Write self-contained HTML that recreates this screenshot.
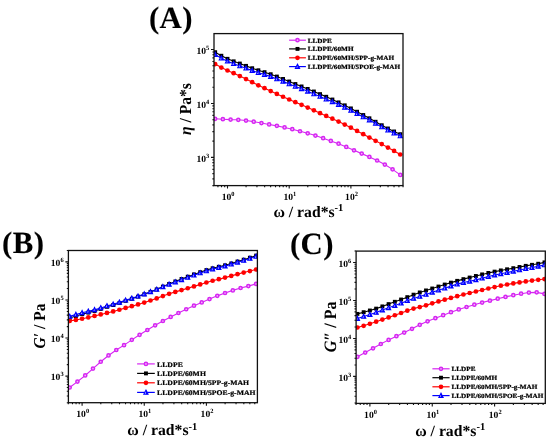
<!DOCTYPE html><html><head><meta charset="utf-8"><style>html,body{margin:0;padding:0;background:#fff;}svg{display:block;text-rendering:geometricPrecision;}</style></head><body>
<svg width="550" height="440" viewBox="0 0 550 440" font-family='"Liberation Serif", "DejaVu Serif", serif' font-weight="bold">
<rect width="550" height="440" fill="#fff"/>
<clipPath id="clipA"><rect x="214.0" y="33.6" width="189.0" height="152.0"/></clipPath>
<g clip-path="url(#clipA)">
<polyline points="215.16,118.80 222.87,119.18 230.59,119.60 238.30,119.78 246.01,120.56 253.72,121.64 261.44,123.04 269.15,124.42 276.86,125.84 284.57,127.42 292.29,129.20 300.00,131.24 307.71,133.28 315.42,135.58 323.13,138.20 330.85,140.90 338.56,143.72 346.27,146.94 353.99,150.34 361.70,153.62 369.41,156.94 377.12,160.52 384.84,164.60 392.55,169.34 400.26,174.90" fill="none" stroke="#d626f2" stroke-width="1.1"/>
<circle cx="215.16" cy="118.80" r="1.60" fill="#f2b4fb" stroke="#d626f2" stroke-width="1.5"/>
<circle cx="222.87" cy="119.18" r="1.60" fill="#f2b4fb" stroke="#d626f2" stroke-width="1.5"/>
<circle cx="230.59" cy="119.60" r="1.60" fill="#f2b4fb" stroke="#d626f2" stroke-width="1.5"/>
<circle cx="238.30" cy="119.78" r="1.60" fill="#f2b4fb" stroke="#d626f2" stroke-width="1.5"/>
<circle cx="246.01" cy="120.56" r="1.60" fill="#f2b4fb" stroke="#d626f2" stroke-width="1.5"/>
<circle cx="253.72" cy="121.64" r="1.60" fill="#f2b4fb" stroke="#d626f2" stroke-width="1.5"/>
<circle cx="261.44" cy="123.04" r="1.60" fill="#f2b4fb" stroke="#d626f2" stroke-width="1.5"/>
<circle cx="269.15" cy="124.42" r="1.60" fill="#f2b4fb" stroke="#d626f2" stroke-width="1.5"/>
<circle cx="276.86" cy="125.84" r="1.60" fill="#f2b4fb" stroke="#d626f2" stroke-width="1.5"/>
<circle cx="284.57" cy="127.42" r="1.60" fill="#f2b4fb" stroke="#d626f2" stroke-width="1.5"/>
<circle cx="292.29" cy="129.20" r="1.60" fill="#f2b4fb" stroke="#d626f2" stroke-width="1.5"/>
<circle cx="300.00" cy="131.24" r="1.60" fill="#f2b4fb" stroke="#d626f2" stroke-width="1.5"/>
<circle cx="307.71" cy="133.28" r="1.60" fill="#f2b4fb" stroke="#d626f2" stroke-width="1.5"/>
<circle cx="315.42" cy="135.58" r="1.60" fill="#f2b4fb" stroke="#d626f2" stroke-width="1.5"/>
<circle cx="323.13" cy="138.20" r="1.60" fill="#f2b4fb" stroke="#d626f2" stroke-width="1.5"/>
<circle cx="330.85" cy="140.90" r="1.60" fill="#f2b4fb" stroke="#d626f2" stroke-width="1.5"/>
<circle cx="338.56" cy="143.72" r="1.60" fill="#f2b4fb" stroke="#d626f2" stroke-width="1.5"/>
<circle cx="346.27" cy="146.94" r="1.60" fill="#f2b4fb" stroke="#d626f2" stroke-width="1.5"/>
<circle cx="353.99" cy="150.34" r="1.60" fill="#f2b4fb" stroke="#d626f2" stroke-width="1.5"/>
<circle cx="361.70" cy="153.62" r="1.60" fill="#f2b4fb" stroke="#d626f2" stroke-width="1.5"/>
<circle cx="369.41" cy="156.94" r="1.60" fill="#f2b4fb" stroke="#d626f2" stroke-width="1.5"/>
<circle cx="377.12" cy="160.52" r="1.60" fill="#f2b4fb" stroke="#d626f2" stroke-width="1.5"/>
<circle cx="384.84" cy="164.60" r="1.60" fill="#f2b4fb" stroke="#d626f2" stroke-width="1.5"/>
<circle cx="392.55" cy="169.34" r="1.60" fill="#f2b4fb" stroke="#d626f2" stroke-width="1.5"/>
<circle cx="400.26" cy="174.90" r="1.60" fill="#f2b4fb" stroke="#d626f2" stroke-width="1.5"/>
<polyline points="215.16,52.20 221.33,55.75 227.50,58.83 233.67,61.33 239.84,63.55 246.01,65.88 252.18,68.23 258.35,70.28 264.52,72.15 270.69,74.22 276.86,76.55 283.03,78.97 289.20,81.50 295.37,84.03 301.54,86.45 307.71,88.93 313.88,91.51 320.05,94.13 326.22,96.77 332.39,99.53 338.56,102.40 344.73,105.34 350.90,108.42 357.07,111.74 363.24,115.03 369.41,118.29 375.58,121.78 381.75,125.25 387.92,128.50 394.09,131.47 400.26,134.20" fill="none" stroke="#000000" stroke-width="1.1"/>
<rect x="213.21" y="50.25" width="3.90" height="3.90" fill="#000000"/>
<rect x="219.38" y="53.80" width="3.90" height="3.90" fill="#000000"/>
<rect x="225.55" y="56.88" width="3.90" height="3.90" fill="#000000"/>
<rect x="231.72" y="59.38" width="3.90" height="3.90" fill="#000000"/>
<rect x="237.89" y="61.60" width="3.90" height="3.90" fill="#000000"/>
<rect x="244.06" y="63.92" width="3.90" height="3.90" fill="#000000"/>
<rect x="250.23" y="66.28" width="3.90" height="3.90" fill="#000000"/>
<rect x="256.40" y="68.33" width="3.90" height="3.90" fill="#000000"/>
<rect x="262.57" y="70.20" width="3.90" height="3.90" fill="#000000"/>
<rect x="268.74" y="72.27" width="3.90" height="3.90" fill="#000000"/>
<rect x="274.91" y="74.60" width="3.90" height="3.90" fill="#000000"/>
<rect x="281.08" y="77.02" width="3.90" height="3.90" fill="#000000"/>
<rect x="287.25" y="79.55" width="3.90" height="3.90" fill="#000000"/>
<rect x="293.42" y="82.08" width="3.90" height="3.90" fill="#000000"/>
<rect x="299.59" y="84.50" width="3.90" height="3.90" fill="#000000"/>
<rect x="305.76" y="86.98" width="3.90" height="3.90" fill="#000000"/>
<rect x="311.93" y="89.56" width="3.90" height="3.90" fill="#000000"/>
<rect x="318.10" y="92.18" width="3.90" height="3.90" fill="#000000"/>
<rect x="324.27" y="94.82" width="3.90" height="3.90" fill="#000000"/>
<rect x="330.44" y="97.58" width="3.90" height="3.90" fill="#000000"/>
<rect x="336.61" y="100.45" width="3.90" height="3.90" fill="#000000"/>
<rect x="342.78" y="103.39" width="3.90" height="3.90" fill="#000000"/>
<rect x="348.95" y="106.47" width="3.90" height="3.90" fill="#000000"/>
<rect x="355.12" y="109.79" width="3.90" height="3.90" fill="#000000"/>
<rect x="361.29" y="113.08" width="3.90" height="3.90" fill="#000000"/>
<rect x="367.46" y="116.34" width="3.90" height="3.90" fill="#000000"/>
<rect x="373.63" y="119.83" width="3.90" height="3.90" fill="#000000"/>
<rect x="379.80" y="123.30" width="3.90" height="3.90" fill="#000000"/>
<rect x="385.97" y="126.55" width="3.90" height="3.90" fill="#000000"/>
<rect x="392.14" y="129.53" width="3.90" height="3.90" fill="#000000"/>
<rect x="398.31" y="132.25" width="3.90" height="3.90" fill="#000000"/>
<polyline points="215.16,64.10 221.33,67.57 227.50,70.50 233.67,73.22 239.84,76.12 246.01,79.08 252.18,82.20 258.35,85.35 264.52,88.22 270.69,91.03 276.86,93.90 283.03,96.75 289.20,99.50 295.37,102.17 301.54,104.85 307.71,107.58 313.88,110.37 320.05,113.15 326.22,115.93 332.39,118.72 338.56,121.55 344.73,124.53 350.90,127.65 357.07,130.90 363.24,134.20 369.41,137.53 375.58,140.82 381.75,144.12 387.92,147.53 394.09,150.97 400.26,154.50" fill="none" stroke="#ff0000" stroke-width="1.1"/>
<circle cx="215.16" cy="64.10" r="2.35" fill="#ff0000"/>
<circle cx="221.33" cy="67.57" r="2.35" fill="#ff0000"/>
<circle cx="227.50" cy="70.50" r="2.35" fill="#ff0000"/>
<circle cx="233.67" cy="73.22" r="2.35" fill="#ff0000"/>
<circle cx="239.84" cy="76.12" r="2.35" fill="#ff0000"/>
<circle cx="246.01" cy="79.08" r="2.35" fill="#ff0000"/>
<circle cx="252.18" cy="82.20" r="2.35" fill="#ff0000"/>
<circle cx="258.35" cy="85.35" r="2.35" fill="#ff0000"/>
<circle cx="264.52" cy="88.22" r="2.35" fill="#ff0000"/>
<circle cx="270.69" cy="91.03" r="2.35" fill="#ff0000"/>
<circle cx="276.86" cy="93.90" r="2.35" fill="#ff0000"/>
<circle cx="283.03" cy="96.75" r="2.35" fill="#ff0000"/>
<circle cx="289.20" cy="99.50" r="2.35" fill="#ff0000"/>
<circle cx="295.37" cy="102.17" r="2.35" fill="#ff0000"/>
<circle cx="301.54" cy="104.85" r="2.35" fill="#ff0000"/>
<circle cx="307.71" cy="107.58" r="2.35" fill="#ff0000"/>
<circle cx="313.88" cy="110.37" r="2.35" fill="#ff0000"/>
<circle cx="320.05" cy="113.15" r="2.35" fill="#ff0000"/>
<circle cx="326.22" cy="115.93" r="2.35" fill="#ff0000"/>
<circle cx="332.39" cy="118.72" r="2.35" fill="#ff0000"/>
<circle cx="338.56" cy="121.55" r="2.35" fill="#ff0000"/>
<circle cx="344.73" cy="124.53" r="2.35" fill="#ff0000"/>
<circle cx="350.90" cy="127.65" r="2.35" fill="#ff0000"/>
<circle cx="357.07" cy="130.90" r="2.35" fill="#ff0000"/>
<circle cx="363.24" cy="134.20" r="2.35" fill="#ff0000"/>
<circle cx="369.41" cy="137.53" r="2.35" fill="#ff0000"/>
<circle cx="375.58" cy="140.82" r="2.35" fill="#ff0000"/>
<circle cx="381.75" cy="144.12" r="2.35" fill="#ff0000"/>
<circle cx="387.92" cy="147.53" r="2.35" fill="#ff0000"/>
<circle cx="394.09" cy="150.97" r="2.35" fill="#ff0000"/>
<circle cx="400.26" cy="154.50" r="2.35" fill="#ff0000"/>
<polyline points="215.16,54.60 221.33,58.15 227.50,61.23 233.67,63.73 239.84,65.95 246.01,68.28 252.18,70.63 258.35,72.68 264.52,74.55 270.69,76.62 276.86,78.95 283.03,81.38 289.20,83.90 295.37,86.43 301.54,88.85 307.71,91.33 313.88,93.91 320.05,96.53 326.22,99.17 332.39,101.84 338.56,104.62 344.73,107.47 350.90,110.47 357.07,113.70 363.24,116.90 369.41,120.08 375.58,123.48 381.75,126.95 387.92,130.20 394.09,133.18 400.26,135.90" fill="none" stroke="#0000ff" stroke-width="1.1"/>
<path d="M215.16,52.29 L217.26,56.38 L213.06,56.38 Z" fill="#b8bcff" stroke="#0000ff" stroke-width="1.1" stroke-linejoin="miter"/><path d="M215.16,52.29 L217.26,56.38 L215.16,56.38 Z" fill="#0000ff"/>
<path d="M221.33,55.84 L223.43,59.93 L219.23,59.93 Z" fill="#b8bcff" stroke="#0000ff" stroke-width="1.1" stroke-linejoin="miter"/><path d="M221.33,55.84 L223.43,59.93 L221.33,59.93 Z" fill="#0000ff"/>
<path d="M227.50,58.91 L229.60,63.01 L225.40,63.01 Z" fill="#b8bcff" stroke="#0000ff" stroke-width="1.1" stroke-linejoin="miter"/><path d="M227.50,58.91 L229.60,63.01 L227.50,63.01 Z" fill="#0000ff"/>
<path d="M233.67,61.41 L235.77,65.51 L231.57,65.51 Z" fill="#b8bcff" stroke="#0000ff" stroke-width="1.1" stroke-linejoin="miter"/><path d="M233.67,61.41 L235.77,65.51 L233.67,65.51 Z" fill="#0000ff"/>
<path d="M239.84,63.64 L241.94,67.73 L237.74,67.73 Z" fill="#b8bcff" stroke="#0000ff" stroke-width="1.1" stroke-linejoin="miter"/><path d="M239.84,63.64 L241.94,67.73 L239.84,67.73 Z" fill="#0000ff"/>
<path d="M246.01,65.97 L248.11,70.06 L243.91,70.06 Z" fill="#b8bcff" stroke="#0000ff" stroke-width="1.1" stroke-linejoin="miter"/><path d="M246.01,65.97 L248.11,70.06 L246.01,70.06 Z" fill="#0000ff"/>
<path d="M252.18,68.32 L254.28,72.41 L250.08,72.41 Z" fill="#b8bcff" stroke="#0000ff" stroke-width="1.1" stroke-linejoin="miter"/><path d="M252.18,68.32 L254.28,72.41 L252.18,72.41 Z" fill="#0000ff"/>
<path d="M258.35,70.37 L260.45,74.46 L256.25,74.46 Z" fill="#b8bcff" stroke="#0000ff" stroke-width="1.1" stroke-linejoin="miter"/><path d="M258.35,70.37 L260.45,74.46 L258.35,74.46 Z" fill="#0000ff"/>
<path d="M264.52,72.24 L266.62,76.34 L262.42,76.34 Z" fill="#b8bcff" stroke="#0000ff" stroke-width="1.1" stroke-linejoin="miter"/><path d="M264.52,72.24 L266.62,76.34 L264.52,76.34 Z" fill="#0000ff"/>
<path d="M270.69,74.31 L272.79,78.41 L268.59,78.41 Z" fill="#b8bcff" stroke="#0000ff" stroke-width="1.1" stroke-linejoin="miter"/><path d="M270.69,74.31 L272.79,78.41 L270.69,78.41 Z" fill="#0000ff"/>
<path d="M276.86,76.64 L278.96,80.73 L274.76,80.73 Z" fill="#b8bcff" stroke="#0000ff" stroke-width="1.1" stroke-linejoin="miter"/><path d="M276.86,76.64 L278.96,80.73 L276.86,80.73 Z" fill="#0000ff"/>
<path d="M283.03,79.06 L285.13,83.16 L280.93,83.16 Z" fill="#b8bcff" stroke="#0000ff" stroke-width="1.1" stroke-linejoin="miter"/><path d="M283.03,79.06 L285.13,83.16 L283.03,83.16 Z" fill="#0000ff"/>
<path d="M289.20,81.59 L291.30,85.69 L287.10,85.69 Z" fill="#b8bcff" stroke="#0000ff" stroke-width="1.1" stroke-linejoin="miter"/><path d="M289.20,81.59 L291.30,85.69 L289.20,85.69 Z" fill="#0000ff"/>
<path d="M295.37,84.12 L297.47,88.21 L293.27,88.21 Z" fill="#b8bcff" stroke="#0000ff" stroke-width="1.1" stroke-linejoin="miter"/><path d="M295.37,84.12 L297.47,88.21 L295.37,88.21 Z" fill="#0000ff"/>
<path d="M301.54,86.54 L303.64,90.63 L299.44,90.63 Z" fill="#b8bcff" stroke="#0000ff" stroke-width="1.1" stroke-linejoin="miter"/><path d="M301.54,86.54 L303.64,90.63 L301.54,90.63 Z" fill="#0000ff"/>
<path d="M307.71,89.02 L309.81,93.11 L305.61,93.11 Z" fill="#b8bcff" stroke="#0000ff" stroke-width="1.1" stroke-linejoin="miter"/><path d="M307.71,89.02 L309.81,93.11 L307.71,93.11 Z" fill="#0000ff"/>
<path d="M313.88,91.60 L315.98,95.69 L311.78,95.69 Z" fill="#b8bcff" stroke="#0000ff" stroke-width="1.1" stroke-linejoin="miter"/><path d="M313.88,91.60 L315.98,95.69 L313.88,95.69 Z" fill="#0000ff"/>
<path d="M320.05,94.22 L322.15,98.32 L317.95,98.32 Z" fill="#b8bcff" stroke="#0000ff" stroke-width="1.1" stroke-linejoin="miter"/><path d="M320.05,94.22 L322.15,98.32 L320.05,98.32 Z" fill="#0000ff"/>
<path d="M326.22,96.86 L328.32,100.95 L324.12,100.95 Z" fill="#b8bcff" stroke="#0000ff" stroke-width="1.1" stroke-linejoin="miter"/><path d="M326.22,96.86 L328.32,100.95 L326.22,100.95 Z" fill="#0000ff"/>
<path d="M332.39,99.53 L334.49,103.63 L330.29,103.63 Z" fill="#b8bcff" stroke="#0000ff" stroke-width="1.1" stroke-linejoin="miter"/><path d="M332.39,99.53 L334.49,103.63 L332.39,103.63 Z" fill="#0000ff"/>
<path d="M338.56,102.31 L340.66,106.41 L336.46,106.41 Z" fill="#b8bcff" stroke="#0000ff" stroke-width="1.1" stroke-linejoin="miter"/><path d="M338.56,102.31 L340.66,106.41 L338.56,106.41 Z" fill="#0000ff"/>
<path d="M344.73,105.16 L346.83,109.26 L342.63,109.26 Z" fill="#b8bcff" stroke="#0000ff" stroke-width="1.1" stroke-linejoin="miter"/><path d="M344.73,105.16 L346.83,109.26 L344.73,109.26 Z" fill="#0000ff"/>
<path d="M350.90,108.16 L353.00,112.26 L348.80,112.26 Z" fill="#b8bcff" stroke="#0000ff" stroke-width="1.1" stroke-linejoin="miter"/><path d="M350.90,108.16 L353.00,112.26 L350.90,112.26 Z" fill="#0000ff"/>
<path d="M357.07,111.39 L359.17,115.49 L354.97,115.49 Z" fill="#b8bcff" stroke="#0000ff" stroke-width="1.1" stroke-linejoin="miter"/><path d="M357.07,111.39 L359.17,115.49 L357.07,115.49 Z" fill="#0000ff"/>
<path d="M363.24,114.59 L365.34,118.69 L361.14,118.69 Z" fill="#b8bcff" stroke="#0000ff" stroke-width="1.1" stroke-linejoin="miter"/><path d="M363.24,114.59 L365.34,118.69 L363.24,118.69 Z" fill="#0000ff"/>
<path d="M369.41,117.77 L371.51,121.86 L367.31,121.86 Z" fill="#b8bcff" stroke="#0000ff" stroke-width="1.1" stroke-linejoin="miter"/><path d="M369.41,117.77 L371.51,121.86 L369.41,121.86 Z" fill="#0000ff"/>
<path d="M375.58,121.17 L377.68,125.26 L373.48,125.26 Z" fill="#b8bcff" stroke="#0000ff" stroke-width="1.1" stroke-linejoin="miter"/><path d="M375.58,121.17 L377.68,125.26 L375.58,125.26 Z" fill="#0000ff"/>
<path d="M381.75,124.64 L383.85,128.74 L379.65,128.74 Z" fill="#b8bcff" stroke="#0000ff" stroke-width="1.1" stroke-linejoin="miter"/><path d="M381.75,124.64 L383.85,128.74 L381.75,128.74 Z" fill="#0000ff"/>
<path d="M387.92,127.89 L390.02,131.99 L385.82,131.99 Z" fill="#b8bcff" stroke="#0000ff" stroke-width="1.1" stroke-linejoin="miter"/><path d="M387.92,127.89 L390.02,131.99 L387.92,131.99 Z" fill="#0000ff"/>
<path d="M394.09,130.87 L396.19,134.96 L391.99,134.96 Z" fill="#b8bcff" stroke="#0000ff" stroke-width="1.1" stroke-linejoin="miter"/><path d="M394.09,130.87 L396.19,134.96 L394.09,134.96 Z" fill="#0000ff"/>
<path d="M400.26,133.59 L402.36,137.69 L398.16,137.69 Z" fill="#b8bcff" stroke="#0000ff" stroke-width="1.1" stroke-linejoin="miter"/><path d="M400.26,133.59 L402.36,137.69 L400.26,137.69 Z" fill="#0000ff"/>
</g>
<rect x="214.0" y="33.6" width="189.0" height="152.0" fill="none" stroke="#111" stroke-width="1.3"/>
<path d="M217.94,185.60v1.6 M221.52,185.60v1.6 M224.68,185.60v1.6 M227.50,185.60v3.0 M246.07,185.60v1.6 M256.94,185.60v1.6 M264.65,185.60v1.6 M270.63,185.60v1.6 M275.51,185.60v1.6 M279.64,185.60v1.6 M283.22,185.60v1.6 M286.38,185.60v1.6 M289.20,185.60v3.0 M307.77,185.60v1.6 M318.64,185.60v1.6 M326.35,185.60v1.6 M332.33,185.60v1.6 M337.21,185.60v1.6 M341.34,185.60v1.6 M344.92,185.60v1.6 M348.08,185.60v1.6 M350.90,185.60v3.0 M369.47,185.60v1.6 M380.34,185.60v1.6 M388.05,185.60v1.6 M394.03,185.60v1.6 M398.91,185.60v1.6 M403.04,185.60v1.6 M214.00,185.61h-1.6 M214.00,178.87h-1.6 M214.00,173.64h-1.6 M214.00,169.37h-1.6 M214.00,165.76h-1.6 M214.00,162.63h-1.6 M214.00,159.87h-1.6 M214.00,157.40h-3.0 M214.00,141.16h-1.6 M214.00,131.66h-1.6 M214.00,124.92h-1.6 M214.00,119.69h-1.6 M214.00,115.42h-1.6 M214.00,111.81h-1.6 M214.00,108.68h-1.6 M214.00,105.92h-1.6 M214.00,103.45h-3.0 M214.00,87.21h-1.6 M214.00,77.71h-1.6 M214.00,70.97h-1.6 M214.00,65.74h-1.6 M214.00,61.47h-1.6 M214.00,57.86h-1.6 M214.00,54.73h-1.6 M214.00,51.97h-1.6 M214.00,49.50h-3.0" stroke="#111" stroke-width="1.1" fill="none"/>
<text x="228.10" y="199.80" font-size="9.6" text-anchor="middle">10<tspan font-size="6.4" dy="-4">0</tspan></text>
<text x="289.80" y="199.80" font-size="9.6" text-anchor="middle">10<tspan font-size="6.4" dy="-4">1</tspan></text>
<text x="351.50" y="199.80" font-size="9.6" text-anchor="middle">10<tspan font-size="6.4" dy="-4">2</tspan></text>
<text x="209.20" y="161.60" font-size="9.6" text-anchor="end">10<tspan font-size="6.4" dy="-4">3</tspan></text>
<text x="209.20" y="107.65" font-size="9.6" text-anchor="end">10<tspan font-size="6.4" dy="-4">4</tspan></text>
<text x="209.20" y="53.70" font-size="9.6" text-anchor="end">10<tspan font-size="6.4" dy="-4">5</tspan></text>
<text x="148.90" y="27.9" font-size="30.8" letter-spacing="0.45" stroke="#000" stroke-width="0.1">(A)</text>
<text x="308.4" y="216.5" font-size="15.7" text-anchor="middle">ω / rad*s<tspan font-size="10.5" dy="-5.6">-1</tspan></text>
<text transform="translate(190.7,109.0) rotate(-90) scale(1,1.08)" font-size="15.6" text-anchor="middle"><tspan font-style="italic">η</tspan> / Pa*s</text>
<line x1="289.1" y1="40.2" x2="305.9" y2="40.2" stroke="#d626f2" stroke-width="1.2"/>
<circle cx="297.50" cy="40.20" r="1.60" fill="#f2b4fb" stroke="#d626f2" stroke-width="1.5"/>
<text transform="translate(307.7,42.65) scale(1.133,1)" font-size="6.4" stroke="#000" stroke-width="0.22">LLDPE</text>
<line x1="289.1" y1="48.9" x2="305.9" y2="48.9" stroke="#000000" stroke-width="1.2"/>
<rect x="295.55" y="46.95" width="3.90" height="3.90" fill="#000000"/>
<text transform="translate(307.7,51.35) scale(1.133,1)" font-size="6.4" stroke="#000" stroke-width="0.22">LLDPE/60MH</text>
<line x1="289.1" y1="57.8" x2="305.9" y2="57.8" stroke="#ff0000" stroke-width="1.2"/>
<circle cx="297.50" cy="57.80" r="2.35" fill="#ff0000"/>
<text transform="translate(307.7,60.25) scale(1.133,1)" font-size="6.4" stroke="#000" stroke-width="0.22">LLDPE/60MH/5PP-g-MAH</text>
<line x1="289.1" y1="66.6" x2="305.9" y2="66.6" stroke="#0000ff" stroke-width="1.2"/>
<path d="M297.50,64.29 L299.60,68.38 L295.40,68.38 Z" fill="#b8bcff" stroke="#0000ff" stroke-width="1.1" stroke-linejoin="miter"/><path d="M297.50,64.29 L299.60,68.38 L297.50,68.38 Z" fill="#0000ff"/>
<text transform="translate(307.7,69.05) scale(1.133,1)" font-size="6.4" stroke="#000" stroke-width="0.22">LLDPE/60MH/5POE-g-MAH</text>
<clipPath id="clipB"><rect x="68.4" y="250.5" width="188.99999999999997" height="152.2"/></clipPath>
<g clip-path="url(#clipB)">
<polyline points="69.67,387.50 77.44,381.60 85.21,375.46 92.98,368.62 100.74,361.74 108.51,355.46 116.28,350.02 124.05,345.14 131.82,339.86 139.59,334.82 147.36,330.00 155.13,325.32 162.89,321.02 170.66,316.94 178.43,313.02 186.20,309.24 193.97,305.70 201.74,302.42 209.51,299.06 217.28,295.86 225.04,292.98 232.81,290.38 240.58,288.02 248.35,286.12 256.12,283.90" fill="none" stroke="#d626f2" stroke-width="1.1"/>
<circle cx="69.67" cy="387.50" r="1.60" fill="#f2b4fb" stroke="#d626f2" stroke-width="1.5"/>
<circle cx="77.44" cy="381.60" r="1.60" fill="#f2b4fb" stroke="#d626f2" stroke-width="1.5"/>
<circle cx="85.21" cy="375.46" r="1.60" fill="#f2b4fb" stroke="#d626f2" stroke-width="1.5"/>
<circle cx="92.98" cy="368.62" r="1.60" fill="#f2b4fb" stroke="#d626f2" stroke-width="1.5"/>
<circle cx="100.74" cy="361.74" r="1.60" fill="#f2b4fb" stroke="#d626f2" stroke-width="1.5"/>
<circle cx="108.51" cy="355.46" r="1.60" fill="#f2b4fb" stroke="#d626f2" stroke-width="1.5"/>
<circle cx="116.28" cy="350.02" r="1.60" fill="#f2b4fb" stroke="#d626f2" stroke-width="1.5"/>
<circle cx="124.05" cy="345.14" r="1.60" fill="#f2b4fb" stroke="#d626f2" stroke-width="1.5"/>
<circle cx="131.82" cy="339.86" r="1.60" fill="#f2b4fb" stroke="#d626f2" stroke-width="1.5"/>
<circle cx="139.59" cy="334.82" r="1.60" fill="#f2b4fb" stroke="#d626f2" stroke-width="1.5"/>
<circle cx="147.36" cy="330.00" r="1.60" fill="#f2b4fb" stroke="#d626f2" stroke-width="1.5"/>
<circle cx="155.13" cy="325.32" r="1.60" fill="#f2b4fb" stroke="#d626f2" stroke-width="1.5"/>
<circle cx="162.89" cy="321.02" r="1.60" fill="#f2b4fb" stroke="#d626f2" stroke-width="1.5"/>
<circle cx="170.66" cy="316.94" r="1.60" fill="#f2b4fb" stroke="#d626f2" stroke-width="1.5"/>
<circle cx="178.43" cy="313.02" r="1.60" fill="#f2b4fb" stroke="#d626f2" stroke-width="1.5"/>
<circle cx="186.20" cy="309.24" r="1.60" fill="#f2b4fb" stroke="#d626f2" stroke-width="1.5"/>
<circle cx="193.97" cy="305.70" r="1.60" fill="#f2b4fb" stroke="#d626f2" stroke-width="1.5"/>
<circle cx="201.74" cy="302.42" r="1.60" fill="#f2b4fb" stroke="#d626f2" stroke-width="1.5"/>
<circle cx="209.51" cy="299.06" r="1.60" fill="#f2b4fb" stroke="#d626f2" stroke-width="1.5"/>
<circle cx="217.28" cy="295.86" r="1.60" fill="#f2b4fb" stroke="#d626f2" stroke-width="1.5"/>
<circle cx="225.04" cy="292.98" r="1.60" fill="#f2b4fb" stroke="#d626f2" stroke-width="1.5"/>
<circle cx="232.81" cy="290.38" r="1.60" fill="#f2b4fb" stroke="#d626f2" stroke-width="1.5"/>
<circle cx="240.58" cy="288.02" r="1.60" fill="#f2b4fb" stroke="#d626f2" stroke-width="1.5"/>
<circle cx="248.35" cy="286.12" r="1.60" fill="#f2b4fb" stroke="#d626f2" stroke-width="1.5"/>
<circle cx="256.12" cy="283.90" r="1.60" fill="#f2b4fb" stroke="#d626f2" stroke-width="1.5"/>
<polyline points="69.67,318.00 75.88,316.01 82.10,314.20 88.31,312.63 94.53,310.99 100.74,308.93 106.96,306.84 113.17,305.05 119.39,303.06 125.60,300.85 131.82,298.76 138.03,296.62 144.25,294.28 150.47,291.91 156.68,289.40 162.89,286.60 169.11,283.95 175.32,281.47 181.54,279.00 187.75,276.67 193.97,274.40 200.19,272.20 206.40,270.10 212.61,268.27 218.83,266.80 225.04,265.30 231.26,263.43 237.47,261.50 243.69,259.68 249.90,257.72 256.12,255.60" fill="none" stroke="#000000" stroke-width="1.1"/>
<rect x="67.72" y="316.05" width="3.90" height="3.90" fill="#000000"/>
<rect x="73.93" y="314.06" width="3.90" height="3.90" fill="#000000"/>
<rect x="80.15" y="312.25" width="3.90" height="3.90" fill="#000000"/>
<rect x="86.36" y="310.68" width="3.90" height="3.90" fill="#000000"/>
<rect x="92.58" y="309.04" width="3.90" height="3.90" fill="#000000"/>
<rect x="98.79" y="306.98" width="3.90" height="3.90" fill="#000000"/>
<rect x="105.01" y="304.89" width="3.90" height="3.90" fill="#000000"/>
<rect x="111.22" y="303.10" width="3.90" height="3.90" fill="#000000"/>
<rect x="117.44" y="301.11" width="3.90" height="3.90" fill="#000000"/>
<rect x="123.65" y="298.90" width="3.90" height="3.90" fill="#000000"/>
<rect x="129.87" y="296.81" width="3.90" height="3.90" fill="#000000"/>
<rect x="136.09" y="294.67" width="3.90" height="3.90" fill="#000000"/>
<rect x="142.30" y="292.33" width="3.90" height="3.90" fill="#000000"/>
<rect x="148.52" y="289.96" width="3.90" height="3.90" fill="#000000"/>
<rect x="154.73" y="287.45" width="3.90" height="3.90" fill="#000000"/>
<rect x="160.94" y="284.65" width="3.90" height="3.90" fill="#000000"/>
<rect x="167.16" y="282.00" width="3.90" height="3.90" fill="#000000"/>
<rect x="173.38" y="279.52" width="3.90" height="3.90" fill="#000000"/>
<rect x="179.59" y="277.05" width="3.90" height="3.90" fill="#000000"/>
<rect x="185.81" y="274.72" width="3.90" height="3.90" fill="#000000"/>
<rect x="192.02" y="272.45" width="3.90" height="3.90" fill="#000000"/>
<rect x="198.24" y="270.25" width="3.90" height="3.90" fill="#000000"/>
<rect x="204.45" y="268.15" width="3.90" height="3.90" fill="#000000"/>
<rect x="210.66" y="266.32" width="3.90" height="3.90" fill="#000000"/>
<rect x="216.88" y="264.85" width="3.90" height="3.90" fill="#000000"/>
<rect x="223.09" y="263.35" width="3.90" height="3.90" fill="#000000"/>
<rect x="229.31" y="261.48" width="3.90" height="3.90" fill="#000000"/>
<rect x="235.53" y="259.55" width="3.90" height="3.90" fill="#000000"/>
<rect x="241.74" y="257.73" width="3.90" height="3.90" fill="#000000"/>
<rect x="247.95" y="255.77" width="3.90" height="3.90" fill="#000000"/>
<rect x="254.17" y="253.65" width="3.90" height="3.90" fill="#000000"/>
<polyline points="69.67,320.90 75.88,319.93 82.10,318.77 88.31,317.42 94.53,315.95 100.74,314.43 106.96,312.93 113.17,311.45 119.39,309.75 125.60,307.90 131.82,306.18 138.03,304.45 144.25,302.55 150.47,300.52 156.68,298.38 162.89,296.05 169.11,293.82 175.32,291.90 181.54,290.10 187.75,288.27 193.97,286.38 200.19,284.42 206.40,282.50 212.61,280.73 218.83,279.18 225.04,277.62 231.26,275.90 237.47,274.15 243.69,272.55 249.90,271.05 256.12,269.50" fill="none" stroke="#ff0000" stroke-width="1.1"/>
<circle cx="69.67" cy="320.90" r="2.35" fill="#ff0000"/>
<circle cx="75.88" cy="319.93" r="2.35" fill="#ff0000"/>
<circle cx="82.10" cy="318.77" r="2.35" fill="#ff0000"/>
<circle cx="88.31" cy="317.42" r="2.35" fill="#ff0000"/>
<circle cx="94.53" cy="315.95" r="2.35" fill="#ff0000"/>
<circle cx="100.74" cy="314.43" r="2.35" fill="#ff0000"/>
<circle cx="106.96" cy="312.93" r="2.35" fill="#ff0000"/>
<circle cx="113.17" cy="311.45" r="2.35" fill="#ff0000"/>
<circle cx="119.39" cy="309.75" r="2.35" fill="#ff0000"/>
<circle cx="125.60" cy="307.90" r="2.35" fill="#ff0000"/>
<circle cx="131.82" cy="306.18" r="2.35" fill="#ff0000"/>
<circle cx="138.03" cy="304.45" r="2.35" fill="#ff0000"/>
<circle cx="144.25" cy="302.55" r="2.35" fill="#ff0000"/>
<circle cx="150.47" cy="300.52" r="2.35" fill="#ff0000"/>
<circle cx="156.68" cy="298.38" r="2.35" fill="#ff0000"/>
<circle cx="162.89" cy="296.05" r="2.35" fill="#ff0000"/>
<circle cx="169.11" cy="293.82" r="2.35" fill="#ff0000"/>
<circle cx="175.32" cy="291.90" r="2.35" fill="#ff0000"/>
<circle cx="181.54" cy="290.10" r="2.35" fill="#ff0000"/>
<circle cx="187.75" cy="288.27" r="2.35" fill="#ff0000"/>
<circle cx="193.97" cy="286.38" r="2.35" fill="#ff0000"/>
<circle cx="200.19" cy="284.42" r="2.35" fill="#ff0000"/>
<circle cx="206.40" cy="282.50" r="2.35" fill="#ff0000"/>
<circle cx="212.61" cy="280.73" r="2.35" fill="#ff0000"/>
<circle cx="218.83" cy="279.18" r="2.35" fill="#ff0000"/>
<circle cx="225.04" cy="277.62" r="2.35" fill="#ff0000"/>
<circle cx="231.26" cy="275.90" r="2.35" fill="#ff0000"/>
<circle cx="237.47" cy="274.15" r="2.35" fill="#ff0000"/>
<circle cx="243.69" cy="272.55" r="2.35" fill="#ff0000"/>
<circle cx="249.90" cy="271.05" r="2.35" fill="#ff0000"/>
<circle cx="256.12" cy="269.50" r="2.35" fill="#ff0000"/>
<polyline points="69.67,316.40 75.88,314.52 82.10,312.82 88.31,311.38 94.53,309.85 100.74,307.90 106.96,305.93 113.17,304.25 119.39,302.38 125.60,300.27 131.82,298.30 138.03,296.27 144.25,294.05 150.47,291.80 156.68,289.40 162.89,286.80 169.11,284.35 175.32,282.07 181.54,279.80 187.75,277.47 193.97,275.20 200.19,273.00 206.40,270.90 212.61,269.07 218.83,267.60 225.04,266.10 231.26,264.23 237.47,262.30 243.69,260.48 249.90,258.52 256.12,256.40" fill="none" stroke="#0000ff" stroke-width="1.1"/>
<path d="M69.67,314.09 L71.77,318.19 L67.57,318.19 Z" fill="#b8bcff" stroke="#0000ff" stroke-width="1.1" stroke-linejoin="miter"/><path d="M69.67,314.09 L71.77,318.19 L69.67,318.19 Z" fill="#0000ff"/>
<path d="M75.88,312.21 L77.98,316.31 L73.78,316.31 Z" fill="#b8bcff" stroke="#0000ff" stroke-width="1.1" stroke-linejoin="miter"/><path d="M75.88,312.21 L77.98,316.31 L75.88,316.31 Z" fill="#0000ff"/>
<path d="M82.10,310.51 L84.20,314.61 L80.00,314.61 Z" fill="#b8bcff" stroke="#0000ff" stroke-width="1.1" stroke-linejoin="miter"/><path d="M82.10,310.51 L84.20,314.61 L82.10,314.61 Z" fill="#0000ff"/>
<path d="M88.31,309.06 L90.41,313.16 L86.22,313.16 Z" fill="#b8bcff" stroke="#0000ff" stroke-width="1.1" stroke-linejoin="miter"/><path d="M88.31,309.06 L90.41,313.16 L88.31,313.16 Z" fill="#0000ff"/>
<path d="M94.53,307.54 L96.63,311.64 L92.43,311.64 Z" fill="#b8bcff" stroke="#0000ff" stroke-width="1.1" stroke-linejoin="miter"/><path d="M94.53,307.54 L96.63,311.64 L94.53,311.64 Z" fill="#0000ff"/>
<path d="M100.74,305.59 L102.84,309.69 L98.64,309.69 Z" fill="#b8bcff" stroke="#0000ff" stroke-width="1.1" stroke-linejoin="miter"/><path d="M100.74,305.59 L102.84,309.69 L100.74,309.69 Z" fill="#0000ff"/>
<path d="M106.96,303.62 L109.06,307.71 L104.86,307.71 Z" fill="#b8bcff" stroke="#0000ff" stroke-width="1.1" stroke-linejoin="miter"/><path d="M106.96,303.62 L109.06,307.71 L106.96,307.71 Z" fill="#0000ff"/>
<path d="M113.17,301.94 L115.27,306.04 L111.07,306.04 Z" fill="#b8bcff" stroke="#0000ff" stroke-width="1.1" stroke-linejoin="miter"/><path d="M113.17,301.94 L115.27,306.04 L113.17,306.04 Z" fill="#0000ff"/>
<path d="M119.39,300.06 L121.49,304.16 L117.29,304.16 Z" fill="#b8bcff" stroke="#0000ff" stroke-width="1.1" stroke-linejoin="miter"/><path d="M119.39,300.06 L121.49,304.16 L119.39,304.16 Z" fill="#0000ff"/>
<path d="M125.60,297.96 L127.70,302.06 L123.50,302.06 Z" fill="#b8bcff" stroke="#0000ff" stroke-width="1.1" stroke-linejoin="miter"/><path d="M125.60,297.96 L127.70,302.06 L125.60,302.06 Z" fill="#0000ff"/>
<path d="M131.82,295.99 L133.92,300.08 L129.72,300.08 Z" fill="#b8bcff" stroke="#0000ff" stroke-width="1.1" stroke-linejoin="miter"/><path d="M131.82,295.99 L133.92,300.08 L131.82,300.08 Z" fill="#0000ff"/>
<path d="M138.03,293.96 L140.13,298.06 L135.94,298.06 Z" fill="#b8bcff" stroke="#0000ff" stroke-width="1.1" stroke-linejoin="miter"/><path d="M138.03,293.96 L140.13,298.06 L138.03,298.06 Z" fill="#0000ff"/>
<path d="M144.25,291.74 L146.35,295.84 L142.15,295.84 Z" fill="#b8bcff" stroke="#0000ff" stroke-width="1.1" stroke-linejoin="miter"/><path d="M144.25,291.74 L146.35,295.84 L144.25,295.84 Z" fill="#0000ff"/>
<path d="M150.47,289.49 L152.56,293.59 L148.37,293.59 Z" fill="#b8bcff" stroke="#0000ff" stroke-width="1.1" stroke-linejoin="miter"/><path d="M150.47,289.49 L152.56,293.59 L150.47,293.59 Z" fill="#0000ff"/>
<path d="M156.68,287.09 L158.78,291.19 L154.58,291.19 Z" fill="#b8bcff" stroke="#0000ff" stroke-width="1.1" stroke-linejoin="miter"/><path d="M156.68,287.09 L158.78,291.19 L156.68,291.19 Z" fill="#0000ff"/>
<path d="M162.89,284.49 L164.99,288.59 L160.79,288.59 Z" fill="#b8bcff" stroke="#0000ff" stroke-width="1.1" stroke-linejoin="miter"/><path d="M162.89,284.49 L164.99,288.59 L162.89,288.59 Z" fill="#0000ff"/>
<path d="M169.11,282.04 L171.21,286.14 L167.01,286.14 Z" fill="#b8bcff" stroke="#0000ff" stroke-width="1.1" stroke-linejoin="miter"/><path d="M169.11,282.04 L171.21,286.14 L169.11,286.14 Z" fill="#0000ff"/>
<path d="M175.32,279.76 L177.42,283.86 L173.22,283.86 Z" fill="#b8bcff" stroke="#0000ff" stroke-width="1.1" stroke-linejoin="miter"/><path d="M175.32,279.76 L177.42,283.86 L175.32,283.86 Z" fill="#0000ff"/>
<path d="M181.54,277.49 L183.64,281.58 L179.44,281.58 Z" fill="#b8bcff" stroke="#0000ff" stroke-width="1.1" stroke-linejoin="miter"/><path d="M181.54,277.49 L183.64,281.58 L181.54,281.58 Z" fill="#0000ff"/>
<path d="M187.75,275.16 L189.85,279.26 L185.66,279.26 Z" fill="#b8bcff" stroke="#0000ff" stroke-width="1.1" stroke-linejoin="miter"/><path d="M187.75,275.16 L189.85,279.26 L187.75,279.26 Z" fill="#0000ff"/>
<path d="M193.97,272.89 L196.07,276.99 L191.87,276.99 Z" fill="#b8bcff" stroke="#0000ff" stroke-width="1.1" stroke-linejoin="miter"/><path d="M193.97,272.89 L196.07,276.99 L193.97,276.99 Z" fill="#0000ff"/>
<path d="M200.19,270.69 L202.28,274.79 L198.09,274.79 Z" fill="#b8bcff" stroke="#0000ff" stroke-width="1.1" stroke-linejoin="miter"/><path d="M200.19,270.69 L202.28,274.79 L200.19,274.79 Z" fill="#0000ff"/>
<path d="M206.40,268.59 L208.50,272.69 L204.30,272.69 Z" fill="#b8bcff" stroke="#0000ff" stroke-width="1.1" stroke-linejoin="miter"/><path d="M206.40,268.59 L208.50,272.69 L206.40,272.69 Z" fill="#0000ff"/>
<path d="M212.61,266.76 L214.71,270.86 L210.51,270.86 Z" fill="#b8bcff" stroke="#0000ff" stroke-width="1.1" stroke-linejoin="miter"/><path d="M212.61,266.76 L214.71,270.86 L212.61,270.86 Z" fill="#0000ff"/>
<path d="M218.83,265.29 L220.93,269.39 L216.73,269.39 Z" fill="#b8bcff" stroke="#0000ff" stroke-width="1.1" stroke-linejoin="miter"/><path d="M218.83,265.29 L220.93,269.39 L218.83,269.39 Z" fill="#0000ff"/>
<path d="M225.04,263.79 L227.14,267.89 L222.94,267.89 Z" fill="#b8bcff" stroke="#0000ff" stroke-width="1.1" stroke-linejoin="miter"/><path d="M225.04,263.79 L227.14,267.89 L225.04,267.89 Z" fill="#0000ff"/>
<path d="M231.26,261.92 L233.36,266.01 L229.16,266.01 Z" fill="#b8bcff" stroke="#0000ff" stroke-width="1.1" stroke-linejoin="miter"/><path d="M231.26,261.92 L233.36,266.01 L231.26,266.01 Z" fill="#0000ff"/>
<path d="M237.47,259.99 L239.57,264.09 L235.38,264.09 Z" fill="#b8bcff" stroke="#0000ff" stroke-width="1.1" stroke-linejoin="miter"/><path d="M237.47,259.99 L239.57,264.09 L237.47,264.09 Z" fill="#0000ff"/>
<path d="M243.69,258.17 L245.79,262.26 L241.59,262.26 Z" fill="#b8bcff" stroke="#0000ff" stroke-width="1.1" stroke-linejoin="miter"/><path d="M243.69,258.17 L245.79,262.26 L243.69,262.26 Z" fill="#0000ff"/>
<path d="M249.90,256.21 L252.00,260.31 L247.80,260.31 Z" fill="#b8bcff" stroke="#0000ff" stroke-width="1.1" stroke-linejoin="miter"/><path d="M249.90,256.21 L252.00,260.31 L249.90,260.31 Z" fill="#0000ff"/>
<path d="M256.12,254.09 L258.22,258.19 L254.02,258.19 Z" fill="#b8bcff" stroke="#0000ff" stroke-width="1.1" stroke-linejoin="miter"/><path d="M256.12,254.09 L258.22,258.19 L256.12,258.19 Z" fill="#0000ff"/>
</g>
<rect x="68.4" y="250.5" width="188.99999999999997" height="152.2" fill="none" stroke="#111" stroke-width="1.3"/>
<path d="M68.31,402.70v1.6 M72.47,402.70v1.6 M76.08,402.70v1.6 M79.26,402.70v1.6 M82.10,402.70v3.0 M100.81,402.70v1.6 M111.75,402.70v1.6 M119.52,402.70v1.6 M125.54,402.70v1.6 M130.46,402.70v1.6 M134.62,402.70v1.6 M138.23,402.70v1.6 M141.41,402.70v1.6 M144.25,402.70v3.0 M162.96,402.70v1.6 M173.90,402.70v1.6 M181.67,402.70v1.6 M187.69,402.70v1.6 M192.61,402.70v1.6 M196.77,402.70v1.6 M200.38,402.70v1.6 M203.56,402.70v1.6 M206.40,402.70v3.0 M225.11,402.70v1.6 M236.05,402.70v1.6 M243.82,402.70v1.6 M249.84,402.70v1.6 M254.76,402.70v1.6 M68.40,402.72h-1.6 M68.40,396.02h-1.6 M68.40,391.26h-1.6 M68.40,387.57h-1.6 M68.40,384.56h-1.6 M68.40,382.01h-1.6 M68.40,379.80h-1.6 M68.40,377.85h-1.6 M68.40,376.11h-3.0 M68.40,364.65h-1.6 M68.40,357.95h-1.6 M68.40,353.19h-1.6 M68.40,349.50h-1.6 M68.40,346.49h-1.6 M68.40,343.94h-1.6 M68.40,341.73h-1.6 M68.40,339.78h-1.6 M68.40,338.04h-3.0 M68.40,326.58h-1.6 M68.40,319.88h-1.6 M68.40,315.12h-1.6 M68.40,311.43h-1.6 M68.40,308.42h-1.6 M68.40,305.87h-1.6 M68.40,303.66h-1.6 M68.40,301.71h-1.6 M68.40,299.97h-3.0 M68.40,288.51h-1.6 M68.40,281.81h-1.6 M68.40,277.05h-1.6 M68.40,273.36h-1.6 M68.40,270.35h-1.6 M68.40,267.80h-1.6 M68.40,265.59h-1.6 M68.40,263.64h-1.6 M68.40,261.90h-3.0 M68.40,250.44h-1.6" stroke="#111" stroke-width="1.1" fill="none"/>
<text x="82.70" y="416.90" font-size="9.6" text-anchor="middle">10<tspan font-size="6.4" dy="-4">0</tspan></text>
<text x="144.85" y="416.90" font-size="9.6" text-anchor="middle">10<tspan font-size="6.4" dy="-4">1</tspan></text>
<text x="207.00" y="416.90" font-size="9.6" text-anchor="middle">10<tspan font-size="6.4" dy="-4">2</tspan></text>
<text x="63.60" y="380.31" font-size="9.6" text-anchor="end">10<tspan font-size="6.4" dy="-4">3</tspan></text>
<text x="63.60" y="342.24" font-size="9.6" text-anchor="end">10<tspan font-size="6.4" dy="-4">4</tspan></text>
<text x="63.60" y="304.17" font-size="9.6" text-anchor="end">10<tspan font-size="6.4" dy="-4">5</tspan></text>
<text x="63.60" y="266.10" font-size="9.6" text-anchor="end">10<tspan font-size="6.4" dy="-4">6</tspan></text>
<text x="2.10" y="252.5" font-size="30.8" letter-spacing="0.45" stroke="#000" stroke-width="0.1">(B)</text>
<text x="162.3" y="435.1" font-size="15.7" text-anchor="middle">ω / rad*s<tspan font-size="10.5" dy="-5.6">-1</tspan></text>
<text transform="translate(45.2,326.0) rotate(-90) scale(1,1.08)" font-size="15.5" text-anchor="middle"><tspan font-style="italic">G′</tspan> / Pa</text>
<line x1="137.1" y1="363.9" x2="154.8" y2="363.9" stroke="#d626f2" stroke-width="1.2"/>
<circle cx="145.95" cy="363.90" r="1.60" fill="#f2b4fb" stroke="#d626f2" stroke-width="1.5"/>
<text transform="translate(157.1,366.50) scale(1.1,1)" font-size="7.0" stroke="#000" stroke-width="0.22">LLDPE</text>
<line x1="137.1" y1="373.4" x2="154.8" y2="373.4" stroke="#000000" stroke-width="1.2"/>
<rect x="144.00" y="371.45" width="3.90" height="3.90" fill="#000000"/>
<text transform="translate(157.1,376.00) scale(1.1,1)" font-size="7.0" stroke="#000" stroke-width="0.22">LLDPE/60MH</text>
<line x1="137.1" y1="382.8" x2="154.8" y2="382.8" stroke="#ff0000" stroke-width="1.2"/>
<circle cx="145.95" cy="382.80" r="2.35" fill="#ff0000"/>
<text transform="translate(157.1,385.40) scale(1.1,1)" font-size="7.0" stroke="#000" stroke-width="0.22">LLDPE/60MH/5PP-g-MAH</text>
<line x1="137.1" y1="392.4" x2="154.8" y2="392.4" stroke="#0000ff" stroke-width="1.2"/>
<path d="M145.95,390.09 L148.05,394.19 L143.85,394.19 Z" fill="#b8bcff" stroke="#0000ff" stroke-width="1.1" stroke-linejoin="miter"/><path d="M145.95,390.09 L148.05,394.19 L145.95,394.19 Z" fill="#0000ff"/>
<text transform="translate(157.1,395.00) scale(1.1,1)" font-size="7.0" stroke="#000" stroke-width="0.22">LLDPE/60MH/5POE-g-MAH</text>
<clipPath id="clipC"><rect x="356.1" y="251.1" width="189.19999999999993" height="152.29999999999998"/></clipPath>
<g clip-path="url(#clipC)">
<polyline points="357.43,356.80 365.22,352.54 373.02,348.32 380.81,343.98 388.60,339.88 396.40,336.14 404.19,332.56 411.99,328.78 419.78,324.78 427.57,321.28 435.37,318.20 443.16,315.18 450.95,312.16 458.75,309.40 466.54,306.98 474.34,304.66 482.13,302.56 489.92,300.64 497.72,298.68 505.51,296.90 513.30,295.22 521.10,293.70 528.89,292.58 536.69,292.36 544.48,293.90" fill="none" stroke="#d626f2" stroke-width="1.1"/>
<circle cx="357.43" cy="356.80" r="1.60" fill="#f2b4fb" stroke="#d626f2" stroke-width="1.5"/>
<circle cx="365.22" cy="352.54" r="1.60" fill="#f2b4fb" stroke="#d626f2" stroke-width="1.5"/>
<circle cx="373.02" cy="348.32" r="1.60" fill="#f2b4fb" stroke="#d626f2" stroke-width="1.5"/>
<circle cx="380.81" cy="343.98" r="1.60" fill="#f2b4fb" stroke="#d626f2" stroke-width="1.5"/>
<circle cx="388.60" cy="339.88" r="1.60" fill="#f2b4fb" stroke="#d626f2" stroke-width="1.5"/>
<circle cx="396.40" cy="336.14" r="1.60" fill="#f2b4fb" stroke="#d626f2" stroke-width="1.5"/>
<circle cx="404.19" cy="332.56" r="1.60" fill="#f2b4fb" stroke="#d626f2" stroke-width="1.5"/>
<circle cx="411.99" cy="328.78" r="1.60" fill="#f2b4fb" stroke="#d626f2" stroke-width="1.5"/>
<circle cx="419.78" cy="324.78" r="1.60" fill="#f2b4fb" stroke="#d626f2" stroke-width="1.5"/>
<circle cx="427.57" cy="321.28" r="1.60" fill="#f2b4fb" stroke="#d626f2" stroke-width="1.5"/>
<circle cx="435.37" cy="318.20" r="1.60" fill="#f2b4fb" stroke="#d626f2" stroke-width="1.5"/>
<circle cx="443.16" cy="315.18" r="1.60" fill="#f2b4fb" stroke="#d626f2" stroke-width="1.5"/>
<circle cx="450.95" cy="312.16" r="1.60" fill="#f2b4fb" stroke="#d626f2" stroke-width="1.5"/>
<circle cx="458.75" cy="309.40" r="1.60" fill="#f2b4fb" stroke="#d626f2" stroke-width="1.5"/>
<circle cx="466.54" cy="306.98" r="1.60" fill="#f2b4fb" stroke="#d626f2" stroke-width="1.5"/>
<circle cx="474.34" cy="304.66" r="1.60" fill="#f2b4fb" stroke="#d626f2" stroke-width="1.5"/>
<circle cx="482.13" cy="302.56" r="1.60" fill="#f2b4fb" stroke="#d626f2" stroke-width="1.5"/>
<circle cx="489.92" cy="300.64" r="1.60" fill="#f2b4fb" stroke="#d626f2" stroke-width="1.5"/>
<circle cx="497.72" cy="298.68" r="1.60" fill="#f2b4fb" stroke="#d626f2" stroke-width="1.5"/>
<circle cx="505.51" cy="296.90" r="1.60" fill="#f2b4fb" stroke="#d626f2" stroke-width="1.5"/>
<circle cx="513.30" cy="295.22" r="1.60" fill="#f2b4fb" stroke="#d626f2" stroke-width="1.5"/>
<circle cx="521.10" cy="293.70" r="1.60" fill="#f2b4fb" stroke="#d626f2" stroke-width="1.5"/>
<circle cx="528.89" cy="292.58" r="1.60" fill="#f2b4fb" stroke="#d626f2" stroke-width="1.5"/>
<circle cx="536.69" cy="292.36" r="1.60" fill="#f2b4fb" stroke="#d626f2" stroke-width="1.5"/>
<circle cx="544.48" cy="293.90" r="1.60" fill="#f2b4fb" stroke="#d626f2" stroke-width="1.5"/>
<polyline points="357.43,313.90 363.66,312.20 369.90,310.50 376.13,308.62 382.37,306.42 388.60,304.10 394.84,301.80 401.07,299.52 407.31,297.15 413.54,294.67 419.78,292.45 426.01,290.45 432.25,288.50 438.49,286.55 444.72,284.55 450.95,282.65 457.19,280.85 463.42,279.14 469.66,277.55 475.89,275.99 482.13,274.42 488.37,272.95 494.60,271.62 500.83,270.43 507.07,269.30 513.30,268.18 519.54,267.00 525.77,265.85 532.01,264.83 538.25,263.75 544.48,262.40" fill="none" stroke="#000000" stroke-width="1.1"/>
<rect x="355.48" y="311.95" width="3.90" height="3.90" fill="#000000"/>
<rect x="361.71" y="310.25" width="3.90" height="3.90" fill="#000000"/>
<rect x="367.95" y="308.55" width="3.90" height="3.90" fill="#000000"/>
<rect x="374.19" y="306.68" width="3.90" height="3.90" fill="#000000"/>
<rect x="380.42" y="304.47" width="3.90" height="3.90" fill="#000000"/>
<rect x="386.65" y="302.15" width="3.90" height="3.90" fill="#000000"/>
<rect x="392.89" y="299.85" width="3.90" height="3.90" fill="#000000"/>
<rect x="399.12" y="297.57" width="3.90" height="3.90" fill="#000000"/>
<rect x="405.36" y="295.20" width="3.90" height="3.90" fill="#000000"/>
<rect x="411.59" y="292.72" width="3.90" height="3.90" fill="#000000"/>
<rect x="417.83" y="290.50" width="3.90" height="3.90" fill="#000000"/>
<rect x="424.06" y="288.50" width="3.90" height="3.90" fill="#000000"/>
<rect x="430.30" y="286.55" width="3.90" height="3.90" fill="#000000"/>
<rect x="436.54" y="284.60" width="3.90" height="3.90" fill="#000000"/>
<rect x="442.77" y="282.60" width="3.90" height="3.90" fill="#000000"/>
<rect x="449.00" y="280.70" width="3.90" height="3.90" fill="#000000"/>
<rect x="455.24" y="278.90" width="3.90" height="3.90" fill="#000000"/>
<rect x="461.47" y="277.19" width="3.90" height="3.90" fill="#000000"/>
<rect x="467.71" y="275.60" width="3.90" height="3.90" fill="#000000"/>
<rect x="473.94" y="274.04" width="3.90" height="3.90" fill="#000000"/>
<rect x="480.18" y="272.47" width="3.90" height="3.90" fill="#000000"/>
<rect x="486.42" y="271.00" width="3.90" height="3.90" fill="#000000"/>
<rect x="492.65" y="269.68" width="3.90" height="3.90" fill="#000000"/>
<rect x="498.88" y="268.48" width="3.90" height="3.90" fill="#000000"/>
<rect x="505.12" y="267.35" width="3.90" height="3.90" fill="#000000"/>
<rect x="511.35" y="266.23" width="3.90" height="3.90" fill="#000000"/>
<rect x="517.59" y="265.05" width="3.90" height="3.90" fill="#000000"/>
<rect x="523.82" y="263.90" width="3.90" height="3.90" fill="#000000"/>
<rect x="530.06" y="262.88" width="3.90" height="3.90" fill="#000000"/>
<rect x="536.29" y="261.80" width="3.90" height="3.90" fill="#000000"/>
<rect x="542.53" y="260.45" width="3.90" height="3.90" fill="#000000"/>
<polyline points="357.43,327.50 363.66,325.81 369.90,323.82 376.13,321.71 382.37,319.57 388.60,317.43 394.84,315.23 401.07,312.98 407.31,310.66 413.54,308.60 419.78,307.04 426.01,305.35 432.25,303.35 438.49,301.43 444.72,299.65 450.95,297.95 457.19,296.18 463.42,294.48 469.66,292.98 475.89,291.51 482.13,290.02 488.37,288.52 494.60,287.06 500.83,285.71 507.07,284.50 513.30,283.39 519.54,282.38 525.77,281.44 532.01,280.56 538.25,279.79 544.48,279.05" fill="none" stroke="#ff0000" stroke-width="1.1"/>
<circle cx="357.43" cy="327.50" r="2.35" fill="#ff0000"/>
<circle cx="363.66" cy="325.81" r="2.35" fill="#ff0000"/>
<circle cx="369.90" cy="323.82" r="2.35" fill="#ff0000"/>
<circle cx="376.13" cy="321.71" r="2.35" fill="#ff0000"/>
<circle cx="382.37" cy="319.57" r="2.35" fill="#ff0000"/>
<circle cx="388.60" cy="317.43" r="2.35" fill="#ff0000"/>
<circle cx="394.84" cy="315.23" r="2.35" fill="#ff0000"/>
<circle cx="401.07" cy="312.98" r="2.35" fill="#ff0000"/>
<circle cx="407.31" cy="310.66" r="2.35" fill="#ff0000"/>
<circle cx="413.54" cy="308.60" r="2.35" fill="#ff0000"/>
<circle cx="419.78" cy="307.04" r="2.35" fill="#ff0000"/>
<circle cx="426.01" cy="305.35" r="2.35" fill="#ff0000"/>
<circle cx="432.25" cy="303.35" r="2.35" fill="#ff0000"/>
<circle cx="438.49" cy="301.43" r="2.35" fill="#ff0000"/>
<circle cx="444.72" cy="299.65" r="2.35" fill="#ff0000"/>
<circle cx="450.95" cy="297.95" r="2.35" fill="#ff0000"/>
<circle cx="457.19" cy="296.18" r="2.35" fill="#ff0000"/>
<circle cx="463.42" cy="294.48" r="2.35" fill="#ff0000"/>
<circle cx="469.66" cy="292.98" r="2.35" fill="#ff0000"/>
<circle cx="475.89" cy="291.51" r="2.35" fill="#ff0000"/>
<circle cx="482.13" cy="290.02" r="2.35" fill="#ff0000"/>
<circle cx="488.37" cy="288.52" r="2.35" fill="#ff0000"/>
<circle cx="494.60" cy="287.06" r="2.35" fill="#ff0000"/>
<circle cx="500.83" cy="285.71" r="2.35" fill="#ff0000"/>
<circle cx="507.07" cy="284.50" r="2.35" fill="#ff0000"/>
<circle cx="513.30" cy="283.39" r="2.35" fill="#ff0000"/>
<circle cx="519.54" cy="282.38" r="2.35" fill="#ff0000"/>
<circle cx="525.77" cy="281.44" r="2.35" fill="#ff0000"/>
<circle cx="532.01" cy="280.56" r="2.35" fill="#ff0000"/>
<circle cx="538.25" cy="279.79" r="2.35" fill="#ff0000"/>
<circle cx="544.48" cy="279.05" r="2.35" fill="#ff0000"/>
<polyline points="357.43,318.60 363.66,316.52 369.90,314.55 376.13,312.40 382.37,310.10 388.60,307.83 394.84,305.57 401.07,303.18 407.31,300.67 413.54,298.48 419.78,296.48 426.01,294.40 432.25,292.30 438.49,290.20 444.72,288.15 450.95,286.12 457.19,284.15 463.42,282.56 469.66,281.32 475.89,279.86 482.13,278.17 488.37,276.57 494.60,275.12 500.83,273.80 507.07,272.55 513.30,271.30 519.54,270.00 525.77,268.73 532.01,267.58 538.25,266.38 544.48,264.90" fill="none" stroke="#0000ff" stroke-width="1.1"/>
<path d="M357.43,316.29 L359.53,320.39 L355.33,320.39 Z" fill="#b8bcff" stroke="#0000ff" stroke-width="1.1" stroke-linejoin="miter"/><path d="M357.43,316.29 L359.53,320.39 L357.43,320.39 Z" fill="#0000ff"/>
<path d="M363.66,314.21 L365.76,318.31 L361.56,318.31 Z" fill="#b8bcff" stroke="#0000ff" stroke-width="1.1" stroke-linejoin="miter"/><path d="M363.66,314.21 L365.76,318.31 L363.66,318.31 Z" fill="#0000ff"/>
<path d="M369.90,312.24 L372.00,316.33 L367.80,316.33 Z" fill="#b8bcff" stroke="#0000ff" stroke-width="1.1" stroke-linejoin="miter"/><path d="M369.90,312.24 L372.00,316.33 L369.90,316.33 Z" fill="#0000ff"/>
<path d="M376.13,310.09 L378.24,314.19 L374.03,314.19 Z" fill="#b8bcff" stroke="#0000ff" stroke-width="1.1" stroke-linejoin="miter"/><path d="M376.13,310.09 L378.24,314.19 L376.13,314.19 Z" fill="#0000ff"/>
<path d="M382.37,307.79 L384.47,311.89 L380.27,311.89 Z" fill="#b8bcff" stroke="#0000ff" stroke-width="1.1" stroke-linejoin="miter"/><path d="M382.37,307.79 L384.47,311.89 L382.37,311.89 Z" fill="#0000ff"/>
<path d="M388.60,305.52 L390.70,309.61 L386.50,309.61 Z" fill="#b8bcff" stroke="#0000ff" stroke-width="1.1" stroke-linejoin="miter"/><path d="M388.60,305.52 L390.70,309.61 L388.60,309.61 Z" fill="#0000ff"/>
<path d="M394.84,303.26 L396.94,307.36 L392.74,307.36 Z" fill="#b8bcff" stroke="#0000ff" stroke-width="1.1" stroke-linejoin="miter"/><path d="M394.84,303.26 L396.94,307.36 L394.84,307.36 Z" fill="#0000ff"/>
<path d="M401.07,300.87 L403.18,304.96 L398.97,304.96 Z" fill="#b8bcff" stroke="#0000ff" stroke-width="1.1" stroke-linejoin="miter"/><path d="M401.07,300.87 L403.18,304.96 L401.07,304.96 Z" fill="#0000ff"/>
<path d="M407.31,298.36 L409.41,302.46 L405.21,302.46 Z" fill="#b8bcff" stroke="#0000ff" stroke-width="1.1" stroke-linejoin="miter"/><path d="M407.31,298.36 L409.41,302.46 L407.31,302.46 Z" fill="#0000ff"/>
<path d="M413.54,296.17 L415.64,300.26 L411.44,300.26 Z" fill="#b8bcff" stroke="#0000ff" stroke-width="1.1" stroke-linejoin="miter"/><path d="M413.54,296.17 L415.64,300.26 L413.54,300.26 Z" fill="#0000ff"/>
<path d="M419.78,294.17 L421.88,298.26 L417.68,298.26 Z" fill="#b8bcff" stroke="#0000ff" stroke-width="1.1" stroke-linejoin="miter"/><path d="M419.78,294.17 L421.88,298.26 L419.78,298.26 Z" fill="#0000ff"/>
<path d="M426.01,292.09 L428.12,296.19 L423.91,296.19 Z" fill="#b8bcff" stroke="#0000ff" stroke-width="1.1" stroke-linejoin="miter"/><path d="M426.01,292.09 L428.12,296.19 L426.01,296.19 Z" fill="#0000ff"/>
<path d="M432.25,289.99 L434.35,294.08 L430.15,294.08 Z" fill="#b8bcff" stroke="#0000ff" stroke-width="1.1" stroke-linejoin="miter"/><path d="M432.25,289.99 L434.35,294.08 L432.25,294.08 Z" fill="#0000ff"/>
<path d="M438.49,287.89 L440.59,291.99 L436.38,291.99 Z" fill="#b8bcff" stroke="#0000ff" stroke-width="1.1" stroke-linejoin="miter"/><path d="M438.49,287.89 L440.59,291.99 L438.49,291.99 Z" fill="#0000ff"/>
<path d="M444.72,285.84 L446.82,289.94 L442.62,289.94 Z" fill="#b8bcff" stroke="#0000ff" stroke-width="1.1" stroke-linejoin="miter"/><path d="M444.72,285.84 L446.82,289.94 L444.72,289.94 Z" fill="#0000ff"/>
<path d="M450.95,283.81 L453.06,287.91 L448.85,287.91 Z" fill="#b8bcff" stroke="#0000ff" stroke-width="1.1" stroke-linejoin="miter"/><path d="M450.95,283.81 L453.06,287.91 L450.95,287.91 Z" fill="#0000ff"/>
<path d="M457.19,281.84 L459.29,285.94 L455.09,285.94 Z" fill="#b8bcff" stroke="#0000ff" stroke-width="1.1" stroke-linejoin="miter"/><path d="M457.19,281.84 L459.29,285.94 L457.19,285.94 Z" fill="#0000ff"/>
<path d="M463.42,280.25 L465.52,284.35 L461.32,284.35 Z" fill="#b8bcff" stroke="#0000ff" stroke-width="1.1" stroke-linejoin="miter"/><path d="M463.42,280.25 L465.52,284.35 L463.42,284.35 Z" fill="#0000ff"/>
<path d="M469.66,279.01 L471.76,283.10 L467.56,283.10 Z" fill="#b8bcff" stroke="#0000ff" stroke-width="1.1" stroke-linejoin="miter"/><path d="M469.66,279.01 L471.76,283.10 L469.66,283.10 Z" fill="#0000ff"/>
<path d="M475.89,277.55 L478.00,281.65 L473.79,281.65 Z" fill="#b8bcff" stroke="#0000ff" stroke-width="1.1" stroke-linejoin="miter"/><path d="M475.89,277.55 L478.00,281.65 L475.89,281.65 Z" fill="#0000ff"/>
<path d="M482.13,275.86 L484.23,279.96 L480.03,279.96 Z" fill="#b8bcff" stroke="#0000ff" stroke-width="1.1" stroke-linejoin="miter"/><path d="M482.13,275.86 L484.23,279.96 L482.13,279.96 Z" fill="#0000ff"/>
<path d="M488.37,274.26 L490.47,278.36 L486.26,278.36 Z" fill="#b8bcff" stroke="#0000ff" stroke-width="1.1" stroke-linejoin="miter"/><path d="M488.37,274.26 L490.47,278.36 L488.37,278.36 Z" fill="#0000ff"/>
<path d="M494.60,272.81 L496.70,276.91 L492.50,276.91 Z" fill="#b8bcff" stroke="#0000ff" stroke-width="1.1" stroke-linejoin="miter"/><path d="M494.60,272.81 L496.70,276.91 L494.60,276.91 Z" fill="#0000ff"/>
<path d="M500.83,271.49 L502.93,275.59 L498.73,275.59 Z" fill="#b8bcff" stroke="#0000ff" stroke-width="1.1" stroke-linejoin="miter"/><path d="M500.83,271.49 L502.93,275.59 L500.83,275.59 Z" fill="#0000ff"/>
<path d="M507.07,270.24 L509.17,274.34 L504.97,274.34 Z" fill="#b8bcff" stroke="#0000ff" stroke-width="1.1" stroke-linejoin="miter"/><path d="M507.07,270.24 L509.17,274.34 L507.07,274.34 Z" fill="#0000ff"/>
<path d="M513.30,268.99 L515.40,273.09 L511.20,273.09 Z" fill="#b8bcff" stroke="#0000ff" stroke-width="1.1" stroke-linejoin="miter"/><path d="M513.30,268.99 L515.40,273.09 L513.30,273.09 Z" fill="#0000ff"/>
<path d="M519.54,267.69 L521.64,271.79 L517.44,271.79 Z" fill="#b8bcff" stroke="#0000ff" stroke-width="1.1" stroke-linejoin="miter"/><path d="M519.54,267.69 L521.64,271.79 L519.54,271.79 Z" fill="#0000ff"/>
<path d="M525.77,266.42 L527.88,270.51 L523.67,270.51 Z" fill="#b8bcff" stroke="#0000ff" stroke-width="1.1" stroke-linejoin="miter"/><path d="M525.77,266.42 L527.88,270.51 L525.77,270.51 Z" fill="#0000ff"/>
<path d="M532.01,265.27 L534.11,269.36 L529.91,269.36 Z" fill="#b8bcff" stroke="#0000ff" stroke-width="1.1" stroke-linejoin="miter"/><path d="M532.01,265.27 L534.11,269.36 L532.01,269.36 Z" fill="#0000ff"/>
<path d="M538.25,264.06 L540.35,268.16 L536.14,268.16 Z" fill="#b8bcff" stroke="#0000ff" stroke-width="1.1" stroke-linejoin="miter"/><path d="M538.25,264.06 L540.35,268.16 L538.25,268.16 Z" fill="#0000ff"/>
<path d="M544.48,262.59 L546.58,266.69 L542.38,266.69 Z" fill="#b8bcff" stroke="#0000ff" stroke-width="1.1" stroke-linejoin="miter"/><path d="M544.48,262.59 L546.58,266.69 L544.48,266.69 Z" fill="#0000ff"/>
</g>
<rect x="356.1" y="251.1" width="189.19999999999993" height="152.29999999999998" fill="none" stroke="#111" stroke-width="1.3"/>
<path d="M356.07,403.40v1.6 M360.24,403.40v1.6 M363.86,403.40v1.6 M367.05,403.40v1.6 M369.90,403.40v3.0 M388.67,403.40v1.6 M399.65,403.40v1.6 M407.44,403.40v1.6 M413.48,403.40v1.6 M418.42,403.40v1.6 M422.59,403.40v1.6 M426.21,403.40v1.6 M429.40,403.40v1.6 M432.25,403.40v3.0 M451.02,403.40v1.6 M462.00,403.40v1.6 M469.79,403.40v1.6 M475.83,403.40v1.6 M480.77,403.40v1.6 M484.94,403.40v1.6 M488.56,403.40v1.6 M491.75,403.40v1.6 M494.60,403.40v3.0 M513.37,403.40v1.6 M524.35,403.40v1.6 M532.14,403.40v1.6 M538.18,403.40v1.6 M543.12,403.40v1.6 M356.10,402.95h-1.6 M356.10,396.26h-1.6 M356.10,391.52h-1.6 M356.10,387.84h-1.6 M356.10,384.83h-1.6 M356.10,382.29h-1.6 M356.10,380.09h-1.6 M356.10,378.15h-1.6 M356.10,376.41h-3.0 M356.10,364.98h-1.6 M356.10,358.29h-1.6 M356.10,353.55h-1.6 M356.10,349.87h-1.6 M356.10,346.86h-1.6 M356.10,344.32h-1.6 M356.10,342.12h-1.6 M356.10,340.18h-1.6 M356.10,338.44h-3.0 M356.10,327.01h-1.6 M356.10,320.32h-1.6 M356.10,315.58h-1.6 M356.10,311.90h-1.6 M356.10,308.89h-1.6 M356.10,306.35h-1.6 M356.10,304.15h-1.6 M356.10,302.21h-1.6 M356.10,300.47h-3.0 M356.10,289.04h-1.6 M356.10,282.35h-1.6 M356.10,277.61h-1.6 M356.10,273.93h-1.6 M356.10,270.92h-1.6 M356.10,268.38h-1.6 M356.10,266.18h-1.6 M356.10,264.24h-1.6 M356.10,262.50h-3.0 M356.10,251.07h-1.6" stroke="#111" stroke-width="1.1" fill="none"/>
<text x="370.50" y="417.60" font-size="9.6" text-anchor="middle">10<tspan font-size="6.4" dy="-4">0</tspan></text>
<text x="432.85" y="417.60" font-size="9.6" text-anchor="middle">10<tspan font-size="6.4" dy="-4">1</tspan></text>
<text x="495.20" y="417.60" font-size="9.6" text-anchor="middle">10<tspan font-size="6.4" dy="-4">2</tspan></text>
<text x="351.30" y="380.61" font-size="9.6" text-anchor="end">10<tspan font-size="6.4" dy="-4">3</tspan></text>
<text x="351.30" y="342.64" font-size="9.6" text-anchor="end">10<tspan font-size="6.4" dy="-4">4</tspan></text>
<text x="351.30" y="304.67" font-size="9.6" text-anchor="end">10<tspan font-size="6.4" dy="-4">5</tspan></text>
<text x="351.30" y="266.70" font-size="9.6" text-anchor="end">10<tspan font-size="6.4" dy="-4">6</tspan></text>
<text x="289.90" y="253.7" font-size="30.8" letter-spacing="0.45" stroke="#000" stroke-width="0.1">(C)</text>
<text x="450.2" y="435.6" font-size="15.7" text-anchor="middle">ω / rad*s<tspan font-size="10.5" dy="-5.6">-1</tspan></text>
<text transform="translate(335.6,326.8) rotate(-90) scale(1,1.08)" font-size="16.1" text-anchor="middle"><tspan font-style="italic">G″</tspan> / Pa</text>
<line x1="432.4" y1="368.8" x2="449.6" y2="368.8" stroke="#d626f2" stroke-width="1.2"/>
<circle cx="441.00" cy="368.80" r="1.60" fill="#f2b4fb" stroke="#d626f2" stroke-width="1.5"/>
<text transform="translate(451.5,371.25) scale(1.125,1)" font-size="6.4" stroke="#000" stroke-width="0.22">LLDPE</text>
<line x1="432.4" y1="377.7" x2="449.6" y2="377.7" stroke="#000000" stroke-width="1.2"/>
<rect x="439.05" y="375.75" width="3.90" height="3.90" fill="#000000"/>
<text transform="translate(451.5,380.15) scale(1.125,1)" font-size="6.4" stroke="#000" stroke-width="0.22">LLDPE/60MH</text>
<line x1="432.4" y1="386.8" x2="449.6" y2="386.8" stroke="#ff0000" stroke-width="1.2"/>
<circle cx="441.00" cy="386.80" r="2.35" fill="#ff0000"/>
<text transform="translate(451.5,389.25) scale(1.125,1)" font-size="6.4" stroke="#000" stroke-width="0.22">LLDPE/60MH/5PP-g-MAH</text>
<line x1="432.4" y1="395.6" x2="449.6" y2="395.6" stroke="#0000ff" stroke-width="1.2"/>
<path d="M441.00,393.29 L443.10,397.39 L438.90,397.39 Z" fill="#b8bcff" stroke="#0000ff" stroke-width="1.1" stroke-linejoin="miter"/><path d="M441.00,393.29 L443.10,397.39 L441.00,397.39 Z" fill="#0000ff"/>
<text transform="translate(451.5,398.05) scale(1.125,1)" font-size="6.4" stroke="#000" stroke-width="0.22">LLDPE/60MH/5POE-g-MAH</text>
</svg></body></html>
